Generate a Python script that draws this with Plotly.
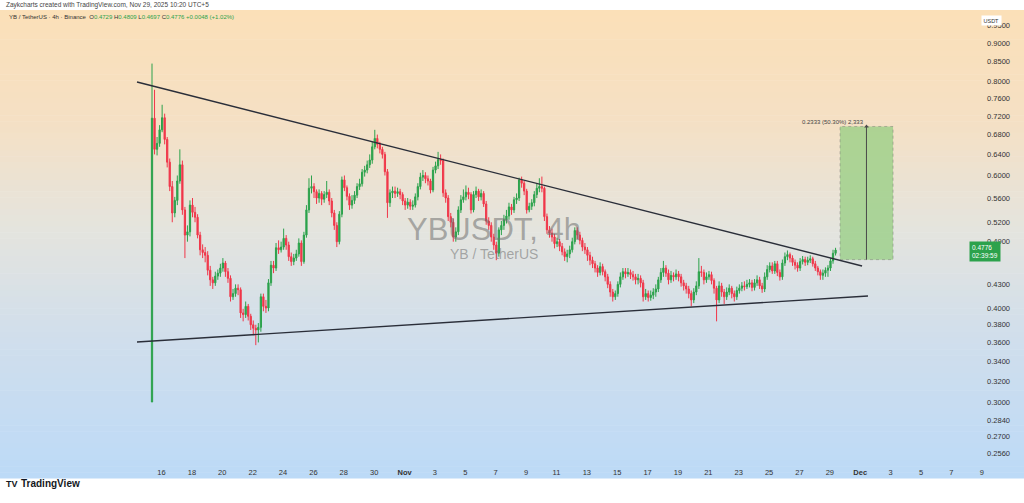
import math
import pandas as pd
import plotly.graph_objects as go

# ---------------- data ----------------
start_time = "2025-10-15 09:00"   # first 4h candle
open_ = [.300,.715,.650,.662,.690,.716,.670,.625,.580,.535,.556,.590,
         .620,.540,.500,.505,.548,.536,.528,.500,.478,.474,.470,.449,
         .436,.432,.441,.445,.452,.459,.447,.438,.414,.418,.425,.423,
         .394,.392,.402,.390,.380,.376,.374,.377,.414,.402,.400,.432,
         .456,.452,.481,.478,.482,.495,.485,.468,.461,.466,.472,.488,
         .461,.500,.540,.577,.580,.571,.560,.568,.558,.566,.570,.555,
         .535,.515,.490,.533,.592,.578,.563,.548,.556,.565,.580,.585,
         .606,.610,.620,.629,.655,.672,.660,.650,.640,.607,.552,.569,
         .572,.568,.571,.566,.555,.548,.553,.546,.548,.562,.580,.597,
         .600,.594,.590,.574,.610,.618,.630,.628,.569,.560,.529,.520,
         .497,.505,.540,.557,.562,.570,.566,.540,.566,.572,.562,.568,
         .550,.522,.515,.497,.485,.473,.508,.515,.524,.530,.545,.540,
         .557,.560,.592,.586,.572,.540,.546,.552,.566,.577,.580,.577,
         .529,.508,.503,.497,.487,.490,.483,.475,.468,.472,.478,.490,
         .507,.500,.492,.482,.478,.470,.463,.458,.452,.446,.454,.447,
         .440,.430,.420,.414,.418,.430,.440,.447,.444,.446,.443,.440,
         .436,.438,.432,.414,.418,.413,.416,.420,.424,.436,.446,.452,
         .445,.436,.442,.440,.444,.440,.432,.428,.424,.418,.410,.420,
         .428,.447,.446,.436,.440,.443,.435,.425,.410,.428,.420,.414,
         .420,.425,.418,.414,.422,.425,.428,.427,.430,.432,.426,.432,
         .436,.428,.424,.440,.450,.455,.448,.458,.446,.440,.459,.468,
         .471,.466,.460,.456,.452,.461,.464,.460,.463,.465,.458,.452,
         .447,.442,.445,.449,.452,.462,.4729]
high = [.845,.780,.675,.700,.745,.725,.675,.632,.590,.562,.600,.650,
        .628,.545,.515,.556,.560,.545,.533,.505,.486,.482,.476,.455,
        .440,.447,.450,.458,.466,.462,.452,.442,.424,.430,.430,.426,
        .399,.408,.405,.393,.385,.380,.382,.418,.418,.410,.437,.462,
        .462,.488,.492,.490,.510,.500,.490,.474,.472,.478,.495,.492,
        .505,.548,.595,.600,.586,.575,.575,.572,.572,.590,.575,.560,
        .540,.520,.538,.598,.600,.582,.568,.565,.572,.586,.594,.612,
        .618,.628,.640,.665,.690,.680,.665,.655,.645,.612,.575,.580,
        .580,.578,.576,.570,.560,.560,.558,.556,.568,.586,.605,.610,
        .606,.600,.594,.616,.626,.645,.640,.632,.575,.565,.535,.526,
        .512,.546,.565,.575,.582,.578,.570,.572,.580,.576,.575,.572,
        .555,.528,.520,.502,.490,.512,.522,.532,.540,.552,.550,.562,
        .568,.596,.598,.590,.576,.552,.558,.572,.585,.595,.598,.580,
        .534,.514,.510,.502,.496,.494,.488,.480,.478,.484,.496,.512,
        .512,.505,.496,.488,.482,.475,.468,.462,.456,.460,.458,.450,
        .444,.434,.424,.422,.434,.446,.452,.452,.452,.450,.448,.444,
        .444,.442,.436,.424,.422,.422,.425,.430,.440,.452,.462,.456,
        .450,.448,.446,.450,.448,.444,.436,.432,.428,.422,.425,.434,
        .466,.455,.450,.446,.448,.447,.438,.428,.434,.432,.424,.426,
        .430,.428,.422,.427,.430,.433,.434,.436,.437,.436,.437,.442,
        .440,.432,.446,.456,.460,.460,.462,.462,.450,.464,.474,.477,
        .474,.470,.464,.460,.466,.469,.468,.468,.470,.468,.462,.455,
        .450,.450,.453,.456,.466,.478,.4809]
low = [.300,.640,.638,.655,.685,.660,.615,.572,.520,.528,.548,.585,
       .532,.466,.490,.498,.528,.520,.495,.470,.466,.460,.442,.428,
       .424,.428,.436,.440,.447,.440,.432,.408,.410,.414,.416,.388,
       .384,.388,.385,.374,.368,.357,.360,.372,.396,.394,.396,.428,
       .445,.448,.472,.474,.478,.478,.462,.455,.456,.462,.468,.455,
       .458,.496,.535,.568,.560,.550,.552,.548,.552,.560,.548,.528,
       .508,.482,.486,.528,.572,.556,.540,.542,.550,.560,.574,.580,
       .598,.604,.614,.622,.650,.652,.642,.632,.600,.527,.545,.560,
       .560,.562,.558,.548,.540,.542,.540,.540,.544,.556,.575,.590,
       .586,.582,.568,.570,.604,.612,.620,.562,.552,.522,.512,.490,
       .490,.500,.535,.552,.556,.558,.534,.536,.560,.555,.556,.545,
       .516,.508,.490,.478,.463,.468,.500,.508,.518,.524,.532,.535,
       .550,.555,.578,.565,.534,.536,.540,.546,.560,.570,.570,.522,
       .502,.496,.490,.480,.482,.476,.470,.462,.460,.466,.474,.486,
       .494,.486,.476,.472,.462,.456,.452,.446,.440,.442,.442,.434,
       .425,.414,.408,.410,.414,.426,.436,.438,.440,.437,.435,.430,
       .430,.426,.408,.410,.408,.409,.411,.414,.420,.432,.440,.440,
       .430,.432,.434,.436,.434,.427,.422,.418,.412,.402,.406,.416,
       .424,.440,.430,.432,.436,.430,.418,.384,.406,.414,.405,.410,
       .416,.412,.408,.410,.418,.421,.422,.424,.426,.421,.422,.428,
       .424,.419,.420,.436,.446,.444,.444,.441,.435,.436,.455,.463,
       .460,.455,.450,.447,.448,.457,.455,.456,.459,.454,.448,.442,
       .436,.436,.440,.440,.448,.458,.4697]
close = [.715,.650,.662,.690,.716,.670,.625,.580,.535,.556,.590,.620,
         .540,.500,.505,.548,.536,.528,.500,.478,.474,.470,.449,.436,
         .432,.441,.445,.452,.459,.447,.438,.414,.418,.425,.423,.394,
         .392,.402,.390,.380,.376,.374,.377,.414,.402,.400,.432,.456,
         .452,.481,.478,.482,.495,.485,.468,.461,.466,.472,.488,.461,
         .500,.540,.577,.580,.571,.560,.568,.558,.566,.570,.555,.535,
         .515,.490,.533,.592,.578,.563,.548,.556,.565,.580,.585,.606,
         .610,.620,.629,.655,.672,.660,.650,.640,.607,.552,.569,.572,
         .568,.571,.566,.555,.548,.553,.546,.548,.562,.580,.597,.600,
         .594,.590,.574,.610,.618,.630,.628,.569,.560,.529,.520,.497,
         .505,.540,.557,.562,.570,.566,.540,.566,.572,.562,.568,.550,
         .522,.515,.497,.485,.473,.508,.515,.524,.530,.545,.540,.557,
         .560,.592,.586,.572,.540,.546,.552,.566,.577,.580,.577,.529,
         .508,.503,.497,.487,.490,.483,.475,.468,.472,.478,.490,.507,
         .500,.492,.482,.478,.470,.463,.458,.452,.446,.454,.447,.440,
         .430,.420,.414,.418,.430,.440,.447,.444,.446,.443,.440,.436,
         .438,.432,.414,.418,.413,.416,.420,.424,.436,.446,.452,.445,
         .436,.442,.440,.444,.440,.432,.428,.424,.418,.410,.420,.428,
         .447,.446,.436,.440,.443,.435,.425,.410,.428,.420,.414,.420,
         .425,.418,.414,.422,.425,.428,.427,.430,.432,.426,.432,.436,
         .428,.424,.440,.450,.455,.448,.458,.446,.440,.459,.468,.471,
         .466,.460,.456,.452,.461,.464,.460,.463,.465,.458,.452,.447,
         .442,.445,.449,.452,.462,.4729,.4776]

upper_trend_t = ["2025-10-14 09:17", "2025-12-01 02:53"]
upper_trend_p = [0.7988, 0.4549]
lower_trend_t = ["2025-10-14 09:17", "2025-12-01 12:14"]
lower_trend_p = [0.3605, 0.4150]

target_t = ["2025-11-29 16:04", "2025-12-03 03:50"]
target_mid_t = "2025-12-01 09:50"
target_p = [0.4638, 0.6971]

y_ticks = [0.95, 0.90, 0.85, 0.80, 0.76, 0.72, 0.68, 0.64, 0.60, 0.56, 0.52,
           0.49, 0.43, 0.40, 0.38, 0.36, 0.34, 0.32, 0.30, 0.284, 0.27, 0.256]
x_tick_dates = (["2025-10-%02d" % d for d in range(16, 31, 2)] +
                ["2025-11-%02d" % d for d in range(1, 30, 2)] +
                ["2025-12-%02d" % d for d in range(1, 10, 2)])
x_tick_text = [str(int(d[-2:])) for d in x_tick_dates]
x_tick_text = ["<b>Nov</b>" if d == "2025-11-01" else ("<b>Dec</b>" if d == "2025-12-01" else t)
               for d, t in zip(x_tick_dates, x_tick_text)]

# ---------------- layout geometry ----------------
W, H = 1024, 503
TOP, BOTTOM = 10, 462           # plot area in px
PANE_BOTTOM = 478
UP, DOWN = "#2ca24c", "#f0374a"

def py(v):  # pixel y -> paper y
    return (BOTTOM - v) / (BOTTOM - TOP)

def px(v):
    return v / W

times = pd.date_range(start_time, periods=len(close), freq="4h")

fig = go.Figure()

# gradient background (style)
stops = [(TOP, (251, 224, 184)), (120, (245, 224, 196)), (230, (228, 228, 222)),
         (340, (208, 222, 236)), (PANE_BOTTOM, (188, 218, 247))]
shapes = []
n = 80
for k in range(n):
    a = TOP + (PANE_BOTTOM - TOP) * k / n
    b = TOP + (PANE_BOTTOM - TOP) * (k + 1) / n
    m = (a + b) / 2
    for j in range(len(stops) - 1):
        if stops[j][0] <= m <= stops[j + 1][0]:
            f = (m - stops[j][0]) / (stops[j + 1][0] - stops[j][0])
            c = [round(stops[j][1][i] + f * (stops[j + 1][1][i] - stops[j][1][i])) for i in range(3)]
            break
    shapes.append(dict(type="rect", xref="paper", yref="paper", x0=0, x1=1,
                       y0=py(b + 0.5), y1=py(a), fillcolor="rgb(%d,%d,%d)" % tuple(c),
                       line=dict(width=0), layer="below"))

# target box
fig.add_trace(go.Scatter(
    x=[target_t[0], target_t[1], target_t[1], target_t[0], target_t[0]],
    y=[target_p[0], target_p[0], target_p[1], target_p[1], target_p[0]],
    mode="lines", fill="toself", fillcolor="rgba(150,205,130,0.75)",
    line=dict(color="rgba(110,110,110,0.6)", width=0.7, dash="dot"),
    hoverinfo="skip", showlegend=False))
fig.add_trace(go.Scatter(
    x=[target_mid_t, target_mid_t], y=target_p, mode="lines",
    line=dict(color="#4a4a4a", width=1), hoverinfo="skip", showlegend=False))
fig.add_trace(go.Scatter(
    x=[target_mid_t], y=[target_p[1]], mode="markers",
    marker=dict(symbol="triangle-up", size=4, color="#4a4a4a"),
    hoverinfo="skip", showlegend=False))

# candles
fig.add_trace(go.Candlestick(
    x=times, open=open_, high=high, low=low, close=close,
    increasing=dict(line=dict(color=UP, width=1), fillcolor=UP),
    decreasing=dict(line=dict(color=DOWN, width=1), fillcolor=DOWN),
    whiskerwidth=0, showlegend=False))

# trend lines
for t, p in ((upper_trend_t, upper_trend_p), (lower_trend_t, lower_trend_p)):
    fig.add_trace(go.Scatter(x=t, y=p, mode="lines",
                             line=dict(color="#2a2e39", width=1.4),
                             hoverinfo="skip", showlegend=False))

x0_date = pd.Timestamp("2025-10-16") - pd.Timedelta(days=161.5 / 15.19)
x1_date = pd.Timestamp("2025-10-16") + pd.Timedelta(days=(W - 161.5) / 15.19)
p_top = math.exp(-0.1054 + (43 - TOP) / 326.8)
p_bot = math.exp(-0.1054 - (BOTTOM - 43) / 326.8)

FONT = "Liberation Sans, Arial, sans-serif"
ann = []
ann.append(dict(x=px(4), y=py(5), xref="paper", yref="paper", xanchor="left", yanchor="middle",
                text="Zaykcharts created with TradingView.com, Nov 29, 2025 10:20 UTC+5",
                showarrow=False, font=dict(size=6.5, color="#444444", family=FONT)))
g = "<span style='color:%s'>%%s</span>" % UP
ann.append(dict(x=px(7), y=py(16.5), xref="paper", yref="paper", xanchor="left", yanchor="middle",
                text="YB / TetherUS · 4h · Binance  O" + g % "0.4729" + " H" + g % "0.4809" +
                     " L" + g % "0.4697" + " C" + g % "0.4776" + " " + g % "+0.0048 (+1.02%)",
                showarrow=False, font=dict(size=6, color="#333333", family=FONT)))
ann.append(dict(x=px(494), y=py(229), xref="paper", yref="paper",
                text="YBUSDT, 4h", showarrow=False,
                font=dict(size=31, color="rgba(110,110,110,0.55)", family=FONT)))
ann.append(dict(x=px(494), y=py(254), xref="paper", yref="paper",
                text="YB / TetherUS", showarrow=False,
                font=dict(size=14, color="rgba(110,110,110,0.55)", family=FONT)))
ann.append(dict(x=px(866), y=py(117), xref="paper", yref="paper",
                text="0.2333 (50.30%) 2,333", showarrow=False,
                font=dict(size=6, color="#444444", family=FONT)))
ann.append(dict(x=px(1002), y=py(15.5), xref="paper", yref="paper",
                text="USDT", showarrow=False, bgcolor="white", borderpad=1.5,
                font=dict(size=5.5, color="#333333", family=FONT)))
ann.append(dict(x=px(1001), y=py(251), xref="paper", yref="paper",
                text="0.4776<br>02:39:59", showarrow=False, bgcolor=UP, borderpad=2,
                align="left", font=dict(size=6.5, color="white", family=FONT)))
ann.append(dict(x=px(19), y=py(491), xref="paper", yref="paper", xanchor="left",
                text="<b>TradingView</b>", showarrow=False,
                font=dict(size=10, color="#131722", family=FONT)))
ann.append(dict(x=px(4), y=py(491), xref="paper", yref="paper", xanchor="left",
                text="<b>TV</b>", showarrow=False,
                font=dict(size=9, color="#131722", family=FONT)))

fig.update_layout(
    width=W, height=H,
    margin=dict(l=0, r=0, t=TOP, b=H - BOTTOM),
    paper_bgcolor="white", plot_bgcolor="rgba(0,0,0,0)",
    shapes=shapes, annotations=ann, showlegend=False,
    xaxis=dict(type="date", range=[x0_date, x1_date], rangeslider=dict(visible=False),
               tickvals=x_tick_dates, ticktext=x_tick_text, ticks="", showgrid=False,
               zeroline=False, showline=False, ticklabelstandoff=4,
               tickfont=dict(size=7.5, color="#333333", family=FONT)),
    yaxis=dict(type="log", range=[math.log10(p_bot), math.log10(p_top)], side="right",
               tickvals=y_ticks, ticktext=["%.4f" % v for v in y_ticks],
               ticklabelposition="inside", ticks="", ticklabelstandoff=11,
               showgrid=False, zeroline=False, showline=False,
               tickfont=dict(size=7.5, color="#333333", family=FONT)),
    hovermode=False,
)

fig.write_html("out.html", config={"displayModeBar": False},
               post_script="document.body.style.margin='0px';document.body.style.overflow='hidden';")
